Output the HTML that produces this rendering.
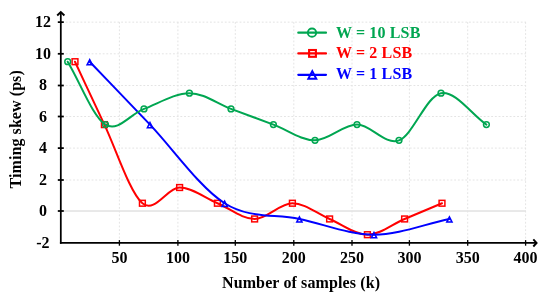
<!DOCTYPE html>
<html><head><meta charset="utf-8"><title>Timing skew</title>
<style>html,body{margin:0;padding:0;background:#fff}svg{display:block}</style></head>
<body>
<svg width="550" height="301" viewBox="0 0 550 301">
<rect width="550" height="301" fill="#fff"/>
<line x1="62" x2="526" y1="22.15" y2="22.15" stroke="#e4e4e4" stroke-width="1" stroke-dasharray="1.85 1.85"/>
<line x1="62" x2="526" y1="53.80" y2="53.80" stroke="#e4e4e4" stroke-width="1" stroke-dasharray="1.85 1.85"/>
<line x1="62" x2="526" y1="85.50" y2="85.50" stroke="#e4e4e4" stroke-width="1" stroke-dasharray="1.85 1.85"/>
<line x1="62" x2="526" y1="116.50" y2="116.50" stroke="#e4e4e4" stroke-width="1" stroke-dasharray="1.85 1.85"/>
<line x1="62" x2="526" y1="148.10" y2="148.10" stroke="#e4e4e4" stroke-width="1" stroke-dasharray="1.85 1.85"/>
<line x1="62" x2="526" y1="180.00" y2="180.00" stroke="#e4e4e4" stroke-width="1" stroke-dasharray="1.85 1.85"/>
<line x1="62" x2="526" y1="211.00" y2="211.00" stroke="#c6c6c6" stroke-width="0.8"/>
<line y1="22" y2="242" x1="119.40" x2="119.40" stroke="#e4e4e4" stroke-width="1" stroke-dasharray="1.85 1.85"/>
<line y1="22" y2="242" x1="177.90" x2="177.90" stroke="#e4e4e4" stroke-width="1" stroke-dasharray="1.85 1.85"/>
<line y1="22" y2="242" x1="235.30" x2="235.30" stroke="#e4e4e4" stroke-width="1" stroke-dasharray="1.85 1.85"/>
<line y1="22" y2="242" x1="293.80" x2="293.80" stroke="#e4e4e4" stroke-width="1" stroke-dasharray="1.85 1.85"/>
<line y1="22" y2="242" x1="352.00" x2="352.00" stroke="#e4e4e4" stroke-width="1" stroke-dasharray="1.85 1.85"/>
<line y1="22" y2="242" x1="409.40" x2="409.40" stroke="#e4e4e4" stroke-width="1" stroke-dasharray="1.85 1.85"/>
<line y1="22" y2="242" x1="467.70" x2="467.70" stroke="#e4e4e4" stroke-width="1" stroke-dasharray="1.85 1.85"/>
<line y1="22" y2="242" x1="525.60" x2="525.60" stroke="#e4e4e4" stroke-width="1" stroke-dasharray="1.85 1.85"/>
<path d="M75.00 61.71 C84.80 82.68 93.17 101.03 104.40 124.61 C115.63 148.20 129.87 192.75 142.40 203.24 C154.93 213.72 167.10 187.51 179.60 187.51 C192.10 187.51 204.90 198.00 217.40 203.24 C229.90 208.48 242.10 218.96 254.60 218.96 C267.10 218.96 279.90 203.24 292.40 203.24 C304.90 203.24 317.10 213.72 329.60 218.96 C342.10 224.20 354.90 234.69 367.40 234.69 C379.90 234.69 392.17 224.20 404.60 218.96 C417.03 213.72 429.53 208.48 442.00 203.24" fill="none" stroke="#ff0000" stroke-width="2.0" stroke-linecap="round" stroke-linejoin="round"/>
<rect x="72.10" y="58.81" width="5.80" height="5.80" fill="none" stroke="#ff0000" stroke-width="1.5"/>
<rect x="101.50" y="121.71" width="5.80" height="5.80" fill="none" stroke="#ff0000" stroke-width="1.5"/>
<rect x="139.50" y="200.34" width="5.80" height="5.80" fill="none" stroke="#ff0000" stroke-width="1.5"/>
<rect x="176.70" y="184.61" width="5.80" height="5.80" fill="none" stroke="#ff0000" stroke-width="1.5"/>
<rect x="214.50" y="200.34" width="5.80" height="5.80" fill="none" stroke="#ff0000" stroke-width="1.5"/>
<rect x="251.70" y="216.06" width="5.80" height="5.80" fill="none" stroke="#ff0000" stroke-width="1.5"/>
<rect x="289.50" y="200.34" width="5.80" height="5.80" fill="none" stroke="#ff0000" stroke-width="1.5"/>
<rect x="326.70" y="216.06" width="5.80" height="5.80" fill="none" stroke="#ff0000" stroke-width="1.5"/>
<rect x="364.50" y="231.79" width="5.80" height="5.80" fill="none" stroke="#ff0000" stroke-width="1.5"/>
<rect x="401.70" y="216.06" width="5.80" height="5.80" fill="none" stroke="#ff0000" stroke-width="1.5"/>
<rect x="439.10" y="200.34" width="5.80" height="5.80" fill="none" stroke="#ff0000" stroke-width="1.5"/>
<path d="M89.70 61.71 C109.80 82.68 127.52 101.03 150.00 124.61 C172.48 148.20 199.70 187.51 224.60 203.24 C249.50 218.96 274.50 213.72 299.40 218.96 C324.30 224.20 349.00 234.69 374.00 234.69 C399.00 234.69 424.27 224.20 449.40 218.96" fill="none" stroke="#0000ff" stroke-width="2.0" stroke-linecap="round" stroke-linejoin="round"/>
<path d="M89.70 59.57 L92.35 64.87 L87.05 64.87 Z" fill="none" stroke="#0000ff" stroke-width="1.5" stroke-linejoin="miter"/>
<path d="M150.00 122.47 L152.65 127.77 L147.35 127.77 Z" fill="none" stroke="#0000ff" stroke-width="1.5" stroke-linejoin="miter"/>
<path d="M224.60 201.09 L227.25 206.39 L221.95 206.39 Z" fill="none" stroke="#0000ff" stroke-width="1.5" stroke-linejoin="miter"/>
<path d="M299.40 216.82 L302.05 222.12 L296.75 222.12 Z" fill="none" stroke="#0000ff" stroke-width="1.5" stroke-linejoin="miter"/>
<path d="M374.00 232.54 L376.65 237.84 L371.35 237.84 Z" fill="none" stroke="#0000ff" stroke-width="1.5" stroke-linejoin="miter"/>
<path d="M449.40 216.82 L452.05 222.12 L446.75 222.12 Z" fill="none" stroke="#0000ff" stroke-width="1.5" stroke-linejoin="miter"/>
<path d="M67.70 61.71 C80.30 82.68 92.78 116.75 105.50 124.61 C118.22 132.47 130.02 114.13 144.00 108.89 C157.98 103.65 174.90 93.16 189.40 93.16 C203.90 93.16 217.00 103.65 231.00 108.89 C245.00 114.13 259.40 119.37 273.40 124.61 C287.40 129.85 301.07 140.34 315.00 140.34 C328.93 140.34 343.00 124.61 357.00 124.61 C371.00 124.61 385.00 145.58 399.00 140.34 C413.00 135.10 426.43 95.78 441.00 93.16 C455.57 90.54 471.27 114.13 486.40 124.61" fill="none" stroke="#00a651" stroke-width="2.0" stroke-linecap="round" stroke-linejoin="round"/>
<circle cx="67.70" cy="61.71" r="2.90" fill="none" stroke="#00a651" stroke-width="1.5"/>
<circle cx="105.50" cy="124.61" r="2.90" fill="none" stroke="#00a651" stroke-width="1.5"/>
<circle cx="144.00" cy="108.89" r="2.90" fill="none" stroke="#00a651" stroke-width="1.5"/>
<circle cx="189.40" cy="93.16" r="2.90" fill="none" stroke="#00a651" stroke-width="1.5"/>
<circle cx="231.00" cy="108.89" r="2.90" fill="none" stroke="#00a651" stroke-width="1.5"/>
<circle cx="273.40" cy="124.61" r="2.90" fill="none" stroke="#00a651" stroke-width="1.5"/>
<circle cx="315.00" cy="140.34" r="2.90" fill="none" stroke="#00a651" stroke-width="1.5"/>
<circle cx="357.00" cy="124.61" r="2.90" fill="none" stroke="#00a651" stroke-width="1.5"/>
<circle cx="399.00" cy="140.34" r="2.90" fill="none" stroke="#00a651" stroke-width="1.5"/>
<circle cx="441.00" cy="93.16" r="2.90" fill="none" stroke="#00a651" stroke-width="1.5"/>
<circle cx="486.40" cy="124.61" r="2.90" fill="none" stroke="#00a651" stroke-width="1.5"/>
<g stroke="#000" stroke-width="1.75" fill="none">
<path d="M60.80 243.77 V12.2"/>
<path d="M59.93 242.90 H536.4"/>
<path d="M57.2 15.5 L60.80 12.0 L64.4 15.5" stroke-width="1.9" stroke-linejoin="miter"/>
<path d="M533.3 239.30 L536.6 242.90 L533.3 246.50" stroke-width="1.9" stroke-linejoin="miter"/>
<path d="M57.8 22.15 H63.8"/>
<path d="M57.8 53.80 H63.8"/>
<path d="M57.8 85.50 H63.8"/>
<path d="M57.8 116.50 H63.8"/>
<path d="M57.8 148.10 H63.8"/>
<path d="M57.8 180.00 H63.8"/>
<path d="M57.8 211.00 H63.8"/>
<path d="M119.40 240.10 V245.70" stroke-width="1.3"/>
<path d="M177.90 240.10 V245.70" stroke-width="1.3"/>
<path d="M235.30 240.10 V245.70" stroke-width="1.3"/>
<path d="M293.80 240.10 V245.70" stroke-width="1.3"/>
<path d="M352.00 240.10 V245.70" stroke-width="1.3"/>
<path d="M409.40 240.10 V245.70" stroke-width="1.3"/>
<path d="M467.70 240.10 V245.70" stroke-width="1.3"/>
<path d="M525.60 240.10 V245.70" stroke-width="1.3"/>
</g>
<g font-family="'Liberation Serif', 'Times New Roman', serif" font-weight="bold" font-size="16" fill="#000" text-anchor="middle">
<text x="42.9" y="26.50">12</text>
<text x="42.9" y="58.65">10</text>
<text x="42.9" y="89.90">8</text>
<text x="42.9" y="121.55">6</text>
<text x="42.9" y="153.30">4</text>
<text x="42.9" y="184.85">2</text>
<text x="42.9" y="216.30">0</text>
<text x="42.9" y="247.75">-2</text>
<text x="119.40" y="262.9">50</text>
<text x="177.90" y="262.9">100</text>
<text x="235.30" y="262.9">150</text>
<text x="293.80" y="262.9">200</text>
<text x="352.00" y="262.9">250</text>
<text x="409.40" y="262.9">300</text>
<text x="467.70" y="262.9">350</text>
<text x="525.60" y="262.9">400</text>
<text x="301.1" y="287.8" letter-spacing="0.12">Number of samples (k)</text>
<text transform="translate(21.2 129.3) rotate(-90)" letter-spacing="0.07">Timing skew (ps)</text>
</g>
<line x1="298.3" x2="326" y1="32.65" y2="32.65" stroke="#00a651" stroke-width="2.2" stroke-linecap="round"/>
<circle cx="312.00" cy="32.65" r="4.15" fill="none" stroke="#00a651" stroke-width="1.9"/>
<text x="335.9" y="37.60" font-family="'Liberation Serif', 'Times New Roman', serif" font-weight="bold" font-size="16" letter-spacing="0.15" fill="#00a651">W = 10 LSB</text>
<line x1="298.3" x2="326" y1="53.40" y2="53.40" stroke="#ff0000" stroke-width="2.2" stroke-linecap="round"/>
<rect x="309.10" y="50.00" width="6.80" height="6.80" fill="none" stroke="#ff0000" stroke-width="2.1"/>
<text x="335.9" y="58.30" font-family="'Liberation Serif', 'Times New Roman', serif" font-weight="bold" font-size="16" letter-spacing="0.15" fill="#ff0000">W = 2 LSB</text>
<line x1="298.3" x2="326" y1="74.80" y2="74.80" stroke="#0000ff" stroke-width="2.2" stroke-linecap="round"/>
<path d="M312.30 71.20 L316.25 78.65 L308.35 78.65 Z" fill="none" stroke="#0000ff" stroke-width="2" stroke-linejoin="miter"/>
<text x="335.9" y="79.10" font-family="'Liberation Serif', 'Times New Roman', serif" font-weight="bold" font-size="16" letter-spacing="0.15" fill="#0000ff">W = 1 LSB</text>
</svg>
</body></html>
